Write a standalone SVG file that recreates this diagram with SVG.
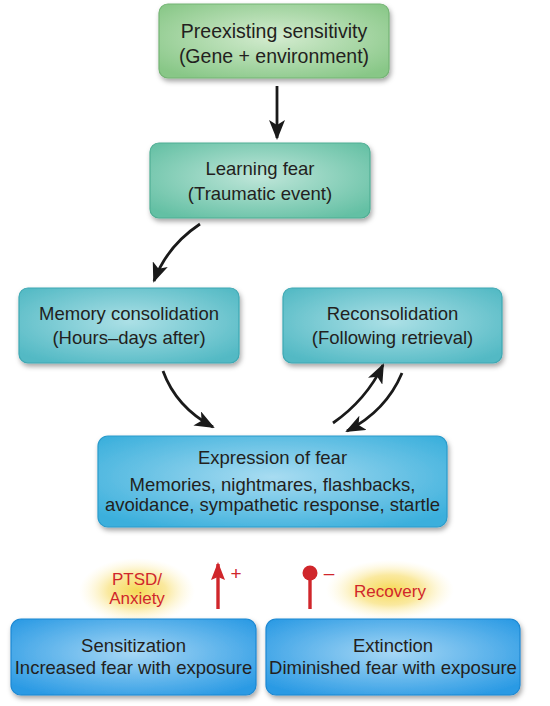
<svg xmlns="http://www.w3.org/2000/svg" width="550" height="706" viewBox="0 0 550 706">
<style>
text{font-family:"Liberation Sans",Arial,sans-serif;fill:#231f20;text-anchor:middle}
.t{font-size:18.5px}
.t1{font-size:19.5px}
.red{fill:#d0262b;font-size:17px}
.conn{fill:none;stroke:#1a1a1a;stroke-width:2.8}
.rconn{fill:none;stroke:#d0262b;stroke-width:3.4}
</style>
<defs>
<filter id="sh" x="-10%" y="-10%" width="125%" height="130%">
<feDropShadow dx="1.5" dy="3" stdDeviation="2.5" flood-color="#000" flood-opacity="0.35"/>
</filter>
<radialGradient id="gGreen" cx="50%" cy="45%" r="65%">
<stop offset="0" stop-color="#d4ecd0"/><stop offset="1" stop-color="#88c787"/>
</radialGradient>
<radialGradient id="gTealG" cx="50%" cy="45%" r="65%">
<stop offset="0" stop-color="#bfe6d9"/><stop offset="1" stop-color="#64c0a4"/>
</radialGradient>
<radialGradient id="gTeal" cx="50%" cy="45%" r="65%">
<stop offset="0" stop-color="#ace0e6"/><stop offset="1" stop-color="#52b9c4"/>
</radialGradient>
<radialGradient id="gCyan" cx="50%" cy="45%" r="65%">
<stop offset="0" stop-color="#a8dcf1"/><stop offset="1" stop-color="#3aafdc"/>
</radialGradient>
<radialGradient id="gBlue" cx="50%" cy="45%" r="65%">
<stop offset="0" stop-color="#a6d7f5"/><stop offset="1" stop-color="#2a9ae4"/>
</radialGradient>
<radialGradient id="glow" cx="50%" cy="50%" r="50%">
<stop offset="0" stop-color="#f6d955"/><stop offset="0.5" stop-color="#f9e58e" stop-opacity="0.85"/><stop offset="1" stop-color="#fff6d0" stop-opacity="0"/>
</radialGradient>
<marker id="ah" viewBox="0 0 20 16" refX="18" refY="8" markerWidth="20" markerHeight="16" markerUnits="userSpaceOnUse" orient="auto">
<path d="M0,0 L20,8 L0,16 L5,8 Z" fill="#1a1a1a"/>
</marker>
<marker id="rah" viewBox="0 0 18 14" refX="16" refY="7" markerWidth="18" markerHeight="14" markerUnits="userSpaceOnUse" orient="auto">
<path d="M0,0 L18,7 L0,14 L3,7 Z" fill="#d0262b"/>
</marker>
</defs>

<g id="glows">
<ellipse cx="137" cy="591" rx="58" ry="33" fill="url(#glow)"/>
<ellipse cx="390" cy="590" rx="64" ry="30" fill="url(#glow)"/>
</g>

<g id="n1">
<rect x="159" y="4" width="230" height="74" rx="9" fill="url(#gGreen)" stroke="#74b474" stroke-width="1.2" filter="url(#sh)"/>
<text class="t1" x="274" y="38">Preexisting sensitivity</text>
<text class="t1" x="274" y="63">(Gene + environment)</text>
</g>

<g id="n2">
<rect x="150" y="143" width="220" height="75" rx="9" fill="url(#gTealG)" stroke="#4fae94" stroke-width="1.2" filter="url(#sh)"/>
<text class="t" x="260" y="175">Learning fear</text>
<text class="t" x="260" y="200">(Traumatic event)</text>
</g>

<g id="n3">
<rect x="19" y="288" width="220" height="75" rx="9" fill="url(#gTeal)" stroke="#3ea8b3" stroke-width="1.2" filter="url(#sh)"/>
<text class="t" x="129" y="320">Memory consolidation</text>
<text class="t" x="129" y="344">(Hours–days after)</text>
</g>

<g id="n4">
<rect x="283" y="288" width="219" height="75" rx="9" fill="url(#gTeal)" stroke="#3ea8b3" stroke-width="1.2" filter="url(#sh)"/>
<text class="t" x="392.5" y="320">Reconsolidation</text>
<text class="t" x="392.5" y="344">(Following retrieval)</text>
</g>

<g id="n5">
<rect x="98" y="436" width="349" height="91" rx="10" fill="url(#gCyan)" stroke="#2a9bcb" stroke-width="1.2" filter="url(#sh)"/>
<text class="t" x="272.5" y="464">Expression of fear</text>
<text class="t" x="272.5" y="491">Memories, nightmares, flashbacks,</text>
<text class="t" x="272.5" y="511">avoidance, sympathetic response, startle</text>
</g>

<g id="n6">
<rect x="11" y="619" width="245" height="76" rx="10" fill="url(#gBlue)" stroke="#1d88d2" stroke-width="1.2" filter="url(#sh)"/>
<text class="t" x="133.5" y="652">Sensitization</text>
<text class="t" x="133.5" y="674">Increased fear with exposure</text>
</g>

<g id="n7">
<rect x="266" y="619" width="254" height="76" rx="10" fill="url(#gBlue)" stroke="#1d88d2" stroke-width="1.2" filter="url(#sh)"/>
<text class="t" x="393" y="652">Extinction</text>
<text class="t" x="393" y="674">Diminished fear with exposure</text>
</g>

<g id="labels">
<text class="red" x="137" y="585">PTSD/</text>
<text class="red" x="137" y="604">Anxiety</text>
<text class="red" x="390" y="597">Recovery</text>
<text class="red" x="236" y="580" style="font-size:19px">+</text>
<text class="red" x="329" y="579" style="font-size:19px">–</text>
</g>

<g id="connectors">
<path class="conn" d="M277,86 L277,138" marker-end="url(#ah)"/>
<path class="conn" d="M200,224 Q167,246 154,281" marker-end="url(#ah)"/>
<path class="conn" d="M163,371 Q176,407 213,427" marker-end="url(#ah)"/>
<path class="conn" d="M333,423 Q366,400 383,365" marker-end="url(#ah)"/>
<path class="conn" d="M402,373 Q386,411 347,431" marker-end="url(#ah)"/>
<path class="rconn" d="M218,609 L218,564" marker-end="url(#rah)"/>
<path class="rconn" d="M310,609 L310,575"/>
<circle cx="310" cy="573" r="7.5" fill="#d0262b"/>
</g>
</svg>
